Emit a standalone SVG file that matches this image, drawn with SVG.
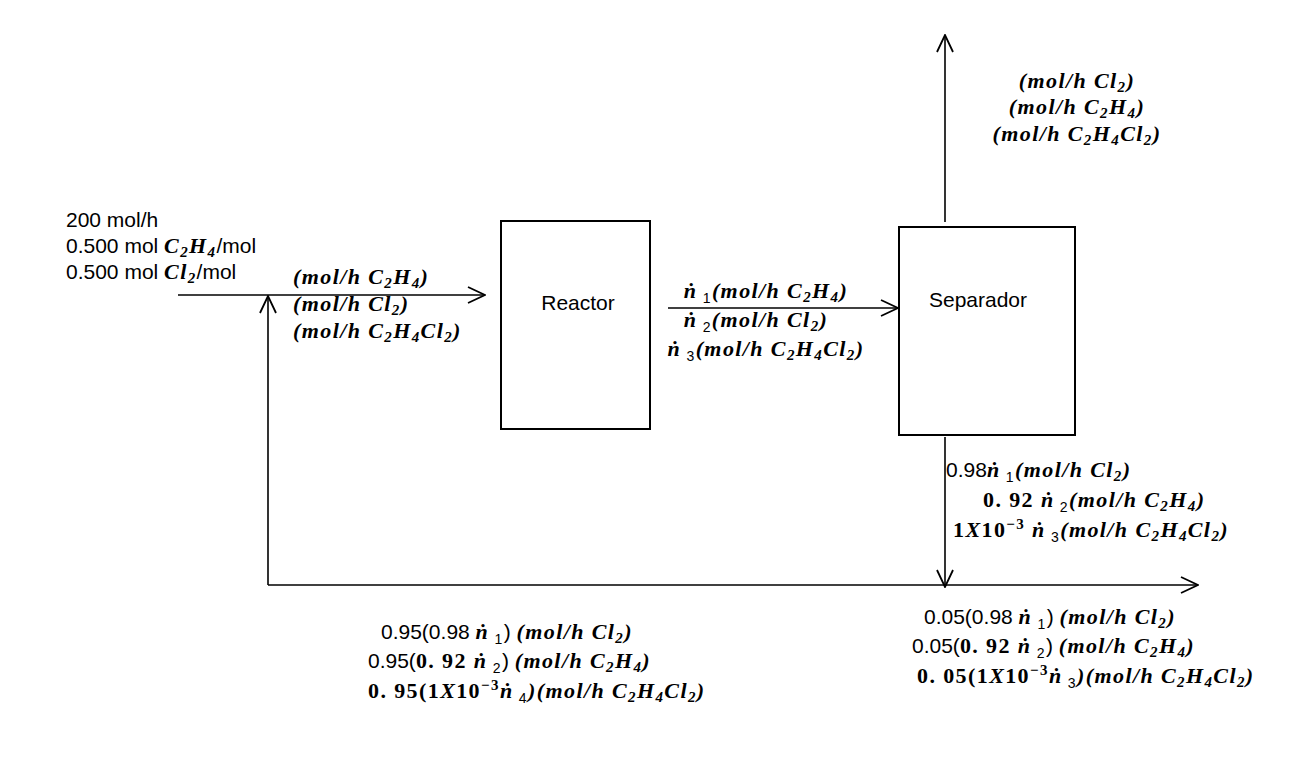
<svg xmlns="http://www.w3.org/2000/svg" width="1291" height="761" viewBox="0 0 1291 761">
<style>
.m{font-family:"Liberation Serif",serif;font-weight:bold;font-style:italic;font-size:22px;letter-spacing:1.4px;fill:#000}
.u{font-style:normal}
.s{font-family:"Liberation Sans",Arial,sans-serif;font-size:21px;letter-spacing:0;font-weight:normal;font-style:normal;fill:#000}
.b{fill:#fff;stroke:#000;stroke-width:2}
.c{stroke:#000;stroke-width:1.6;fill:none}
.sb{font-size:15px}
.sbn{font-size:14px;font-style:normal;font-weight:normal;font-family:"Liberation Sans",sans-serif}
</style>
<defs>
<marker id="ah" viewBox="0 0 20 20" refX="19" refY="10" markerWidth="20" markerHeight="20" markerUnits="userSpaceOnUse" orient="auto">
<path d="M2,2 L19,10 L2,18" fill="none" stroke="#000" stroke-width="1.8"/>
</marker>
</defs>
<rect width="1291" height="761" fill="#fff"/>
<g id="connectors">
<line class="c" x1="178" y1="295" x2="485" y2="295" marker-end="url(#ah)"/>
<line class="c" x1="268" y1="585" x2="268" y2="296" marker-end="url(#ah)"/>
<line class="c" x1="268" y1="585" x2="1198" y2="585" marker-end="url(#ah)"/>
<line class="c" x1="668" y1="308" x2="898" y2="308" marker-end="url(#ah)"/>
<line class="c" x1="945" y1="222" x2="945" y2="35" marker-end="url(#ah)"/>
<line class="c" x1="945" y1="437" x2="945" y2="587" marker-end="url(#ah)"/>
</g>
<g id="reactor">
<rect class="b" x="501" y="221" width="149" height="208"/>
<text class="s" x="578" y="310" text-anchor="middle">Reactor</text>
</g>
<g id="separador">
<rect class="b" x="899" y="227" width="176" height="208"/>
<text class="s" x="978" y="307" text-anchor="middle">Separador</text>
</g>
<g id="feed-labels">
<text class="s" x="66" y="227">200 mol/h</text>
<text class="s" x="66" y="253">0.500 mol <tspan class="m">C<tspan class="sb" dy="4">2</tspan><tspan dy="-4">H</tspan><tspan class="sb" dy="4">4</tspan></tspan><tspan dy="-4">/mol</tspan></text>
<text class="s" x="66" y="279">0.500 mol <tspan class="m">Cl<tspan class="sb" dy="4">2</tspan></tspan><tspan dy="-4">/mol</tspan></text>
</g>
<g id="reactor-in-labels" class="m">
<text x="293" y="284">(mol/h C<tspan class="sb" dy="4">2</tspan><tspan dy="-4">H</tspan><tspan class="sb" dy="4">4</tspan><tspan dy="-4">)</tspan></text>
<text x="293" y="311">(mol/h Cl<tspan class="sb" dy="4">2</tspan><tspan dy="-4">)</tspan></text>
<text x="293" y="338">(mol/h C<tspan class="sb" dy="4">2</tspan><tspan dy="-4">H</tspan><tspan class="sb" dy="4">4</tspan><tspan dy="-4">Cl</tspan><tspan class="sb" dy="4">2</tspan><tspan dy="-4">)</tspan></text>
</g>
<g id="reactor-out-labels" class="m" text-anchor="middle">
<text x="766" y="298">ṅ<tspan class="sbn" dy="5"> 1</tspan><tspan dy="-5">(mol/h C</tspan><tspan class="sb" dy="4">2</tspan><tspan dy="-4">H</tspan><tspan class="sb" dy="4">4</tspan><tspan dy="-4">)</tspan></text>
<text x="756" y="327">ṅ<tspan class="sbn" dy="5"> 2</tspan><tspan dy="-5">(mol/h Cl</tspan><tspan class="sb" dy="4">2</tspan><tspan dy="-4">)</tspan></text>
<text x="766" y="356">ṅ<tspan class="sbn" dy="5"> 3</tspan><tspan dy="-5">(mol/h C</tspan><tspan class="sb" dy="4">2</tspan><tspan dy="-4">H</tspan><tspan class="sb" dy="4">4</tspan><tspan dy="-4">Cl</tspan><tspan class="sb" dy="4">2</tspan><tspan dy="-4">)</tspan></text>
</g>
<g id="top-labels" class="m" text-anchor="middle">
<text x="1077" y="88">(mol/h Cl<tspan class="sb" dy="4">2</tspan><tspan dy="-4">)</tspan></text>
<text x="1077" y="114">(mol/h C<tspan class="sb" dy="4">2</tspan><tspan dy="-4">H</tspan><tspan class="sb" dy="4">4</tspan><tspan dy="-4">)</tspan></text>
<text x="1077" y="141">(mol/h C<tspan class="sb" dy="4">2</tspan><tspan dy="-4">H</tspan><tspan class="sb" dy="4">4</tspan><tspan dy="-4">Cl</tspan><tspan class="sb" dy="4">2</tspan><tspan dy="-4">)</tspan></text>
</g>
<g id="separator-bottom-labels" class="m">
<text x="946" y="477"><tspan class="s">0.98</tspan>ṅ<tspan class="sbn" dy="5"> 1</tspan><tspan dy="-5">(mol/h Cl</tspan><tspan class="sb" dy="4">2</tspan><tspan dy="-4">)</tspan></text>
<text x="983" y="507"><tspan class="u">0. 92 </tspan>ṅ<tspan class="sbn" dy="5"> 2</tspan><tspan dy="-5">(mol/h C</tspan><tspan class="sb" dy="4">2</tspan><tspan dy="-4">H</tspan><tspan class="sb" dy="4">4</tspan><tspan dy="-4">)</tspan></text>
<text x="953" y="537"><tspan class="u">1</tspan>X<tspan class="u">10</tspan><tspan class="sb u" dy="-8">−3</tspan><tspan dy="8"> ṅ</tspan><tspan class="sbn" dy="5"> 3</tspan><tspan dy="-5">(mol/h C</tspan><tspan class="sb" dy="4">2</tspan><tspan dy="-4">H</tspan><tspan class="sb" dy="4">4</tspan><tspan dy="-4">Cl</tspan><tspan class="sb" dy="4">2</tspan><tspan dy="-4">)</tspan></text>
</g>
<g id="purge-labels" class="m">
<text x="924" y="624"><tspan class="s">0.05(0.98 </tspan>ṅ<tspan class="sbn" dy="5"> 1</tspan><tspan class="s" dy="-5">) </tspan>(mol/h Cl<tspan class="sb" dy="4">2</tspan><tspan dy="-4">)</tspan></text>
<text x="912" y="653"><tspan class="s">0.05(</tspan><tspan class="u">0. 92 </tspan>ṅ<tspan class="sbn" dy="5"> 2</tspan><tspan class="s" dy="-5">) </tspan>(mol/h C<tspan class="sb" dy="4">2</tspan><tspan dy="-4">H</tspan><tspan class="sb" dy="4">4</tspan><tspan dy="-4">)</tspan></text>
<text x="917" y="683"><tspan class="u">0. 05(1</tspan>X<tspan class="u">10</tspan><tspan class="sb u" dy="-8">−3</tspan><tspan dy="8">ṅ</tspan><tspan class="sbn" dy="5"> 3</tspan><tspan dy="-5">)(mol/h C</tspan><tspan class="sb" dy="4">2</tspan><tspan dy="-4">H</tspan><tspan class="sb" dy="4">4</tspan><tspan dy="-4">Cl</tspan><tspan class="sb" dy="4">2</tspan><tspan dy="-4">)</tspan></text>
</g>
<g id="recycle-labels" class="m">
<text x="381" y="639"><tspan class="s">0.95(0.98 </tspan>ṅ<tspan class="sbn" dy="5"> 1</tspan><tspan class="s" dy="-5">) </tspan>(mol/h Cl<tspan class="sb" dy="4">2</tspan><tspan dy="-4">)</tspan></text>
<text x="368" y="668"><tspan class="s">0.95(</tspan><tspan class="u">0. 92 </tspan>ṅ<tspan class="sbn" dy="5"> 2</tspan><tspan class="s" dy="-5">) </tspan>(mol/h C<tspan class="sb" dy="4">2</tspan><tspan dy="-4">H</tspan><tspan class="sb" dy="4">4</tspan><tspan dy="-4">)</tspan></text>
<text x="368" y="698"><tspan class="u">0. 95(1</tspan>X<tspan class="u">10</tspan><tspan class="sb u" dy="-8">−3</tspan><tspan dy="8">ṅ</tspan><tspan class="sbn" dy="5"> 4</tspan><tspan dy="-5">)(mol/h C</tspan><tspan class="sb" dy="4">2</tspan><tspan dy="-4">H</tspan><tspan class="sb" dy="4">4</tspan><tspan dy="-4">Cl</tspan><tspan class="sb" dy="4">2</tspan><tspan dy="-4">)</tspan></text>
</g>
</svg>
